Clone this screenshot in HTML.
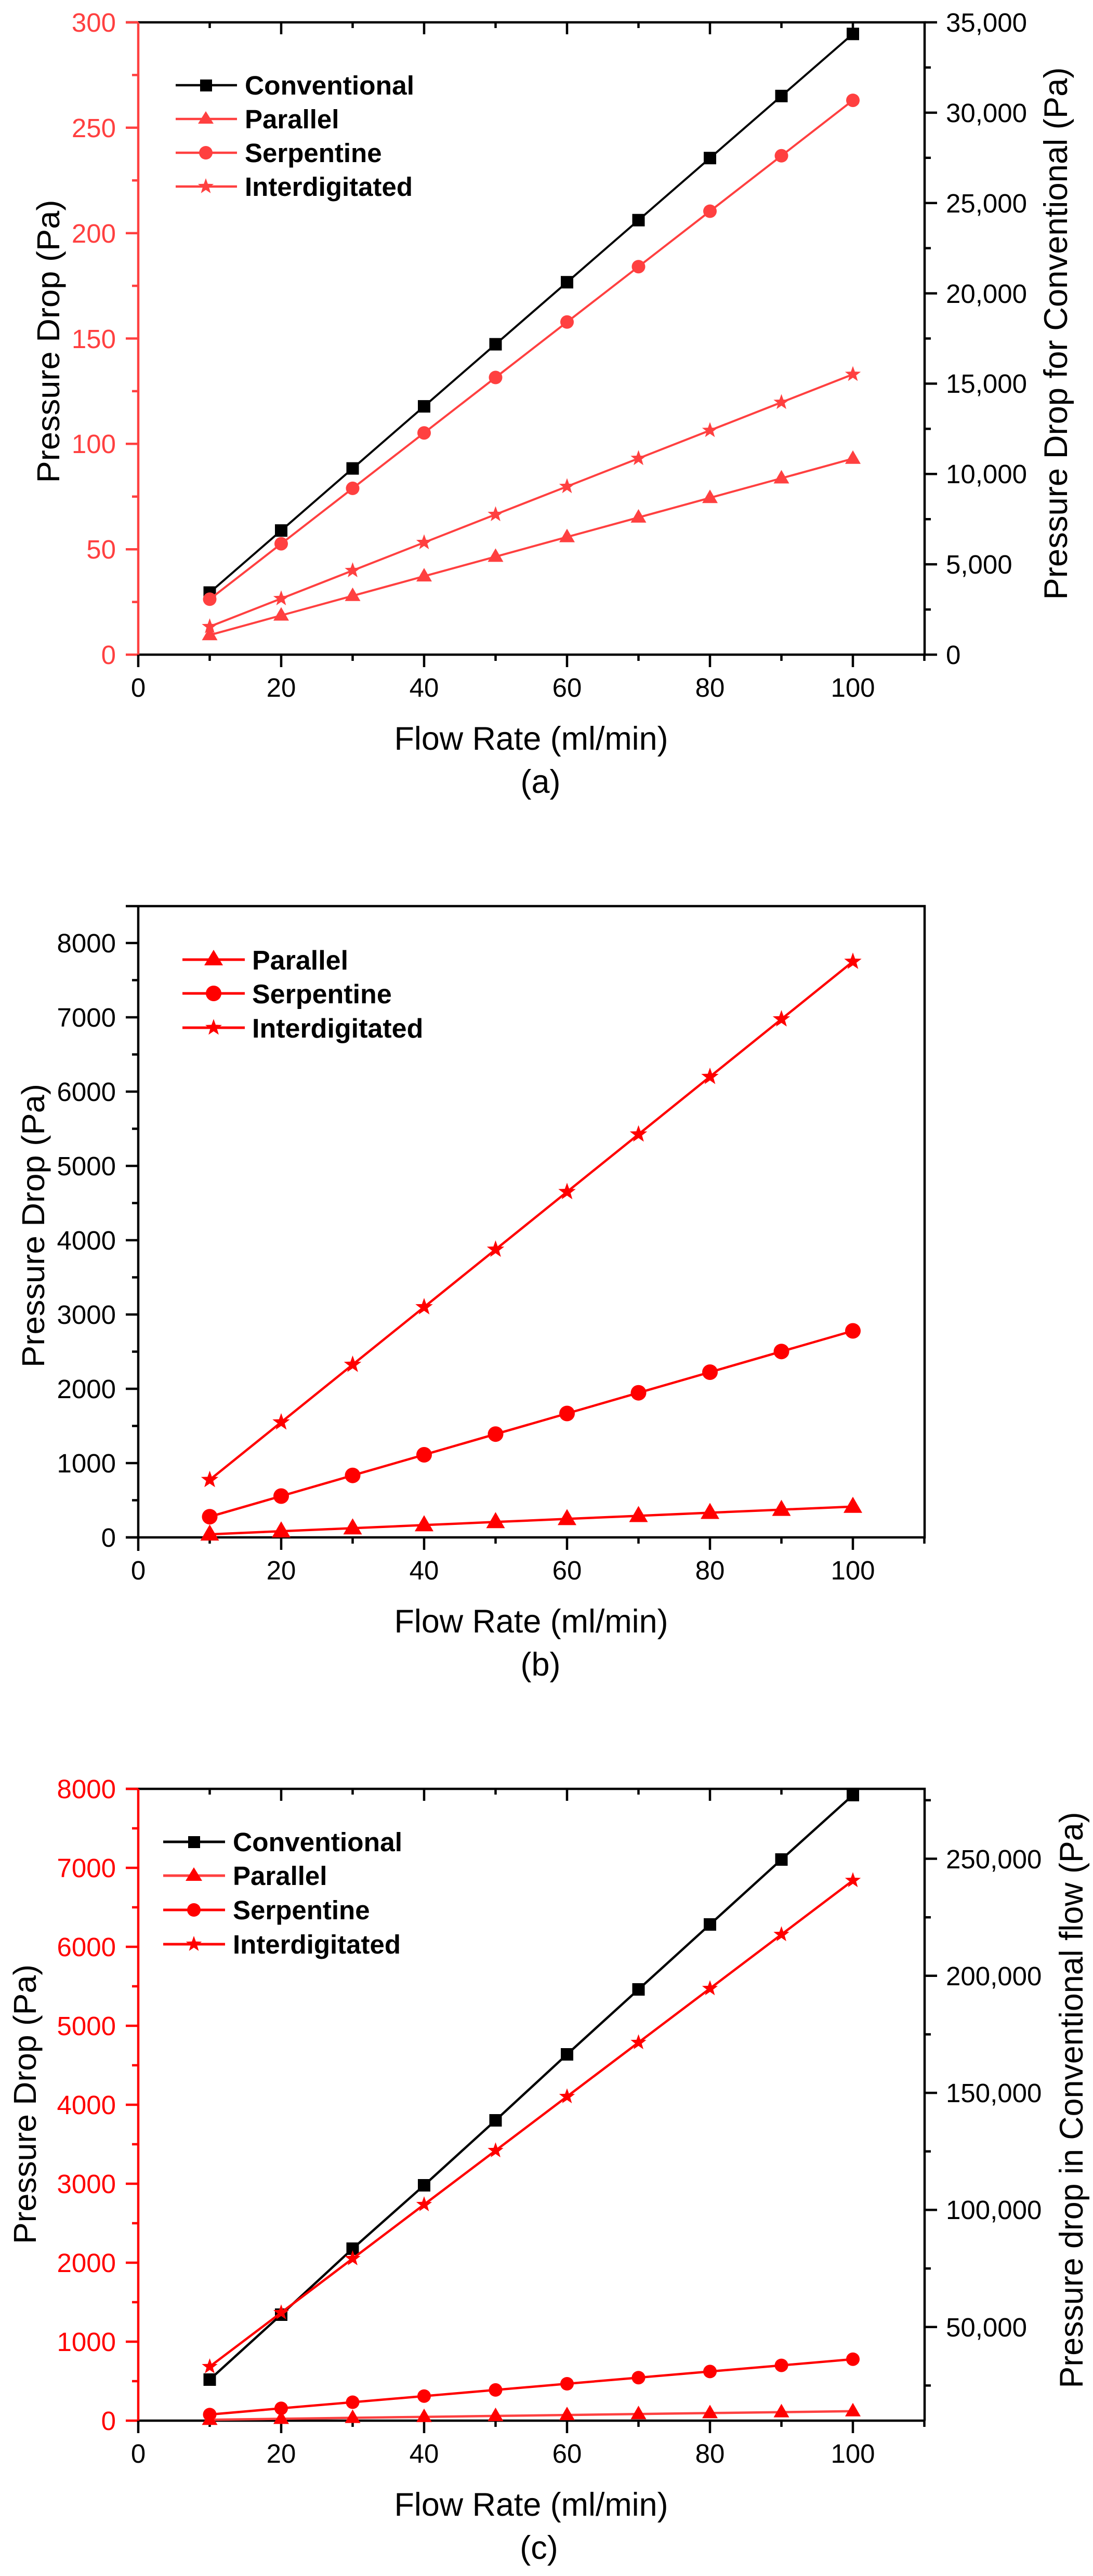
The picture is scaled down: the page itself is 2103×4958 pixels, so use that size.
<!DOCTYPE html>
<html><head><meta charset="utf-8"><style>html,body{margin:0;padding:0;background:#fff}svg{display:block}</style></head>
<body>
<svg xmlns="http://www.w3.org/2000/svg" width="2103" height="4958" viewBox="0 0 2103 4958" font-family="Liberation Sans, Arial, sans-serif">
<defs>
<marker id="sqA" markerUnits="userSpaceOnUse" markerWidth="1" markerHeight="1" refX="0" refY="0" overflow="visible"><rect x="-12" y="-12" width="24" height="24" fill="#000"/></marker>
<marker id="ciA" markerUnits="userSpaceOnUse" markerWidth="1" markerHeight="1" refX="0" refY="0" overflow="visible"><circle r="13" fill="#ff4040"/></marker>
<marker id="trA" markerUnits="userSpaceOnUse" markerWidth="1" markerHeight="1" refX="0" refY="0" overflow="visible"><path d="M0,-16 L15,10 -15,10Z" fill="#ff4040"/></marker>
<marker id="stA" markerUnits="userSpaceOnUse" markerWidth="1" markerHeight="1" refX="0" refY="0" overflow="visible"><path d="M0,-16 L3.8,-5.3 15.2,-4.9 6.2,2 9.4,12.9 0,6.5 -9.4,12.9 -6.2,2 -15.2,-4.9 -3.8,-5.3Z" fill="#ff4040"/></marker>
<marker id="ciB" markerUnits="userSpaceOnUse" markerWidth="1" markerHeight="1" refX="0" refY="0" overflow="visible"><circle r="15" fill="#ff0000"/></marker>
<marker id="trB" markerUnits="userSpaceOnUse" markerWidth="1" markerHeight="1" refX="0" refY="0" overflow="visible"><path d="M0,-19 L18,12 -18,12Z" fill="#ff0000"/></marker>
<marker id="stB" markerUnits="userSpaceOnUse" markerWidth="1" markerHeight="1" refX="0" refY="0" overflow="visible"><path d="M0,-16 L3.8,-5.3 15.2,-4.9 6.2,2 9.4,12.9 0,6.5 -9.4,12.9 -6.2,2 -15.2,-4.9 -3.8,-5.3Z" fill="#ff0000" transform="scale(1.1)"/></marker>
<marker id="sqC" markerUnits="userSpaceOnUse" markerWidth="1" markerHeight="1" refX="0" refY="0" overflow="visible"><rect x="-12" y="-12" width="24" height="24" fill="#000"/></marker>
<marker id="ciC" markerUnits="userSpaceOnUse" markerWidth="1" markerHeight="1" refX="0" refY="0" overflow="visible"><circle r="13" fill="#ff0000"/></marker>
<marker id="trC" markerUnits="userSpaceOnUse" markerWidth="1" markerHeight="1" refX="0" refY="0" overflow="visible"><path d="M0,-16 L15,10 -15,10Z" fill="#ff0000"/></marker>
<marker id="stC" markerUnits="userSpaceOnUse" markerWidth="1" markerHeight="1" refX="0" refY="0" overflow="visible"><path d="M0,-16 L3.8,-5.3 15.2,-4.9 6.2,2 9.4,12.9 0,6.5 -9.4,12.9 -6.2,2 -15.2,-4.9 -3.8,-5.3Z" fill="#ff0000"/></marker>
</defs>

<!-- ================= PANEL A ================= -->
<g fill="none" stroke-width="4.5">
  <path d="M242,43 H1779 V1260 M266,1260 H1779" stroke="#000"/>
  <path d="M266,43 V1262" stroke="#ff4040"/>
  <!-- left ticks -->
  <path d="M242,1260H266M242,1057.2H266M242,854.3H266M242,651.5H266M242,448.7H266M242,245.8H266M242,43H266M254,1158.6H266M254,955.8H266M254,752.9H266M254,550.1H266M254,347.2H266M254,144.4H266" stroke="#ff4040"/>
  <!-- right ticks -->
  <path d="M1779,1260H1803M1779,1086.1H1803M1779,912.3H1803M1779,738.4H1803M1779,564.6H1803M1779,390.7H1803M1779,216.9H1803M1779,43H1803M1779,1173.1H1791M1779,999.2H1791M1779,825.4H1791M1779,651.5H1791M1779,477.6H1791M1779,303.8H1791M1779,129.9H1791" stroke="#000"/>
  <!-- bottom ticks -->
  <path d="M266,1260V1284M541,1260V1284M816,1260V1284M1091,1260V1284M1366,1260V1284M1641,1260V1284M403.5,1260V1272M678.5,1260V1272M953.5,1260V1272M1228.5,1260V1272M1503.5,1260V1272M1778.5,1260V1272" stroke="#000"/>
  <!-- top ticks inward -->
  <path d="M541,43V66M816,43V66M1091,43V66M1366,43V66M1641,43V66M403.5,43V54M678.5,43V54M953.5,43V54M1228.5,43V54M1503.5,43V54" stroke="#000"/>
</g>
<g fill="none" stroke-width="4" stroke-linejoin="round">
  <polyline stroke="#000" marker-start="url(#sqA)" marker-mid="url(#sqA)" marker-end="url(#sqA)" points="403.5,1140.5 541,1021.1 678.5,901.6 816,782.1 953.5,662.6 1091,543.2 1228.5,423.7 1366,304.2 1503.5,184.8 1641,65.3"/>
  <polyline stroke="#ff4040" marker-start="url(#ciA)" marker-mid="url(#ciA)" marker-end="url(#ciA)" points="403.5,1153.3 541,1046.6 678.5,939.9 816,833.2 953.5,726.5 1091,619.8 1228.5,513.2 1366,406.5 1503.5,299.8 1641,193.1"/>
  <polyline stroke="#ff4040" marker-start="url(#stA)" marker-mid="url(#stA)" marker-end="url(#stA)" points="403.5,1206 541,1152.1 678.5,1098.1 816,1044.2 953.5,990.2 1091,936.3 1228.5,882.3 1366,828.4 1503.5,774.4 1641,720.5"/>
  <polyline stroke="#ff4040" marker-start="url(#trA)" marker-mid="url(#trA)" marker-end="url(#trA)" points="403.5,1222.3 541,1184.5 678.5,1146.8 816,1109.1 953.5,1071.4 1091,1033.6 1228.5,995.9 1366,958.2 1503.5,920.5 1641,882.7"/>
</g>
<g font-size="51" fill="#ff4040" text-anchor="end">
  <text x="223" y="1278">0</text><text x="223" y="1075">50</text><text x="223" y="872">100</text><text x="223" y="670">150</text><text x="223" y="467">200</text><text x="223" y="264">250</text><text x="223" y="61">300</text>
</g>
<g font-size="51" fill="#000" text-anchor="start">
  <text x="1820" y="1278">0</text><text x="1820" y="1104">5,000</text><text x="1820" y="930">10,000</text><text x="1820" y="756">15,000</text><text x="1820" y="583">20,000</text><text x="1820" y="409">25,000</text><text x="1820" y="235">30,000</text><text x="1820" y="61">35,000</text>
</g>
<g font-size="51" fill="#000" text-anchor="middle">
  <text x="266" y="1341">0</text><text x="541" y="1341">20</text><text x="816" y="1341">40</text><text x="1091" y="1341">60</text><text x="1366" y="1341">80</text><text x="1641" y="1341">100</text>
</g>
<text x="1022" y="1443" font-size="63" text-anchor="middle" textLength="527" lengthAdjust="spacingAndGlyphs">Flow Rate (ml/min)</text>
<text x="1040" y="1526" font-size="63" text-anchor="middle">(a)</text>
<text transform="translate(114,657) rotate(-90)" font-size="61" text-anchor="middle" textLength="545" lengthAdjust="spacingAndGlyphs">Pressure Drop (Pa)</text>
<text transform="translate(2053,642) rotate(-90)" font-size="63" text-anchor="middle" textLength="1025" lengthAdjust="spacingAndGlyphs">Pressure Drop for Conventional (Pa)</text>
<!-- legend a -->
<g stroke-width="4.5">
  <line x1="338" y1="164" x2="456" y2="164" stroke="#000"/><rect x="385" y="153" width="23" height="23" fill="#000"/>
  <line x1="338" y1="229" x2="456" y2="229" stroke="#ff4040"/><path d="M396,214 L411,238 381,238Z" fill="#ff4040"/>
  <line x1="338" y1="294" x2="456" y2="294" stroke="#ff4040"/><circle cx="396" cy="294" r="13" fill="#ff4040"/>
  <line x1="338" y1="359" x2="456" y2="359" stroke="#ff4040"/><path transform="translate(396,359)" d="M0,-16 L3.8,-5.3 15.2,-4.9 6.2,2 9.4,12.9 0,6.5 -9.4,12.9 -6.2,2 -15.2,-4.9 -3.8,-5.3Z" fill="#ff4040"/>
</g>
<g font-size="51" font-weight="bold" fill="#000">
  <text x="471" y="182" textLength="326" lengthAdjust="spacingAndGlyphs">Conventional</text>
  <text x="471" y="247">Parallel</text>
  <text x="471" y="312">Serpentine</text>
  <text x="471" y="377">Interdigitated</text>
</g>

<!-- ================= PANEL B ================= -->
<g fill="none" stroke-width="4.5" stroke="#000">
  <path d="M242,1744 H1779 V2959 H242 M266,1744 V2985"/>
  <path d="M242,2959H266M242,2816H266M242,2673H266M242,2530H266M242,2387H266M242,2244H266M242,2101H266M242,1958H266M242,1815H266M254,2887.5H266M254,2744.5H266M254,2601.5H266M254,2458.5H266M254,2315.5H266M254,2172.5H266M254,2029.5H266M254,1886.5H266"/>
  <path d="M541,2959V2983M816,2959V2983M1091,2959V2983M1366,2959V2983M1641,2959V2983M403.5,2959V2971M678.5,2959V2971M953.5,2959V2971M1228.5,2959V2971M1503.5,2959V2971M1778.5,2959V2971"/>
</g>
<g fill="none" stroke-width="4.5" stroke="#ff0000" stroke-linejoin="round">
  <polyline marker-start="url(#stB)" marker-mid="url(#stB)" marker-end="url(#stB)" points="403.5,2848.2 541,2737.4 678.5,2626.5 816,2515.7 953.5,2404.9 1091,2294 1228.5,2183.2 1366,2072.4 1503.5,1961.6 1641,1850.8"/>
  <polyline marker-start="url(#ciB)" marker-mid="url(#ciB)" marker-end="url(#ciB)" points="403.5,2919.2 541,2879.5 678.5,2839.7 816,2800 953.5,2760.2 1091,2720.5 1228.5,2680.7 1366,2641 1503.5,2601.2 1641,2561.5"/>
  <polyline marker-start="url(#trB)" marker-mid="url(#trB)" marker-end="url(#trB)" points="403.5,2953.1 541,2947.1 678.5,2941.2 816,2935.3 953.5,2929.3 1091,2923.4 1228.5,2917.5 1366,2911.5 1503.5,2905.6 1641,2899.7"/>
</g>
<g font-size="51" fill="#000" text-anchor="end">
  <text x="223" y="2977">0</text><text x="223" y="2834">1000</text><text x="223" y="2691">2000</text><text x="223" y="2548">3000</text><text x="223" y="2405">4000</text><text x="223" y="2262">5000</text><text x="223" y="2119">6000</text><text x="223" y="1976">7000</text><text x="223" y="1833">8000</text>
</g>
<g font-size="51" fill="#000" text-anchor="middle">
  <text x="266" y="3040">0</text><text x="541" y="3040">20</text><text x="816" y="3040">40</text><text x="1091" y="3040">60</text><text x="1366" y="3040">80</text><text x="1641" y="3040">100</text>
</g>
<text x="1022" y="3142" font-size="63" text-anchor="middle" textLength="527" lengthAdjust="spacingAndGlyphs">Flow Rate (ml/min)</text>
<text x="1040" y="3225" font-size="63" text-anchor="middle">(b)</text>
<text transform="translate(85,2359) rotate(-90)" font-size="61" text-anchor="middle" textLength="546" lengthAdjust="spacingAndGlyphs">Pressure Drop (Pa)</text>
<g stroke-width="5" stroke="#ff0000">
  <line x1="351" y1="1847" x2="471" y2="1847"/><path d="M411,1828 L429,1858 393,1858Z" fill="#ff0000" stroke="none"/>
  <line x1="351" y1="1912" x2="471" y2="1912"/><circle cx="411" cy="1912" r="15" fill="#ff0000" stroke="none"/>
  <line x1="351" y1="1978" x2="471" y2="1978"/><path transform="translate(411,1978) scale(1.05)" d="M0,-16 L3.8,-5.3 15.2,-4.9 6.2,2 9.4,12.9 0,6.5 -9.4,12.9 -6.2,2 -15.2,-4.9 -3.8,-5.3Z" fill="#ff0000" stroke="none"/>
</g>
<g font-size="52" font-weight="bold" fill="#000">
  <text x="485" y="1866">Parallel</text>
  <text x="485" y="1931">Serpentine</text>
  <text x="485" y="1997">Interdigitated</text>
</g>

<!-- ================= PANEL C ================= -->
<g fill="none" stroke-width="4.5">
  <path d="M242,3443 H1779 V4659 M266,4659 H1779" stroke="#000"/>
  <path d="M266,3443 V4661" stroke="#ff0000"/>
  <path d="M242,4659H266M242,4507H266M242,4355H266M242,4203H266M242,4051H266M242,3899H266M242,3747H266M242,3595H266M242,3443H266M254,4583H266M254,4431H266M254,4279H266M254,4127H266M254,3975H266M254,3823H266M254,3671H266M254,3519H266" stroke="#ff0000"/>
  <path d="M1779,4478.7H1803M1779,4253.4H1803M1779,4028.1H1803M1779,3802.8H1803M1779,3577.5H1803M1779,4591.4H1791M1779,4366.1H1791M1779,4140.8H1791M1779,3915.5H1791M1779,3690.2H1791M1779,3464.9H1791" stroke="#000"/>
  <path d="M266,4659V4683M541,4659V4683M816,4659V4683M1091,4659V4683M1366,4659V4683M1641,4659V4683M403.5,4659V4671M678.5,4659V4671M953.5,4659V4671M1228.5,4659V4671M1503.5,4659V4671M1778.5,4659V4671" stroke="#000"/>
  <path d="M541,3443V3466M816,3443V3466M1091,3443V3466M1366,3443V3466M1641,3443V3466M403.5,3443V3454M678.5,3443V3454M953.5,3443V3454M1228.5,3443V3454M1503.5,3443V3454" stroke="#000"/>
</g>
<g fill="none" stroke-width="4.5" stroke-linejoin="round">
  <polyline stroke="#000" marker-start="url(#sqC)" marker-mid="url(#sqC)" marker-end="url(#sqC)" points="403.5,4580 541,4455 678.5,4328 816,4206 953.5,4081 1091,3954 1228.5,3829 1366,3704 1503.5,3579 1641,3455"/>
  <polyline stroke="#ff0000" marker-start="url(#stC)" marker-mid="url(#stC)" marker-end="url(#stC)" points="403.5,4555 541,4451.1 678.5,4347.1 816,4243.1 953.5,4139.2 1091,4035.2 1228.5,3931.2 1366,3827.3 1503.5,3723.3 1641,3619.3"/>
  <polyline stroke="#ff0000" marker-start="url(#ciC)" marker-mid="url(#ciC)" marker-end="url(#ciC)" points="403.5,4647.2 541,4635.3 678.5,4623.5 816,4611.7 953.5,4599.9 1091,4588 1228.5,4576.2 1366,4564.4 1503.5,4552.6 1641,4540.7"/>
  <polyline stroke="#ff4040" marker-start="url(#trC)" marker-mid="url(#trC)" marker-end="url(#trC)" points="403.5,4657.2 541,4655.4 678.5,4653.5 816,4651.7 953.5,4649.9 1091,4648.1 1228.5,4646.2 1366,4644.4 1503.5,4642.6 1641,4640.8"/>
</g>
<g font-size="51" fill="#ff0000" text-anchor="end">
  <text x="223" y="4677">0</text><text x="223" y="4525">1000</text><text x="223" y="4373">2000</text><text x="223" y="4221">3000</text><text x="223" y="4069">4000</text><text x="223" y="3917">5000</text><text x="223" y="3765">6000</text><text x="223" y="3613">7000</text><text x="223" y="3461">8000</text>
</g>
<g font-size="51" fill="#000" text-anchor="start">
  <text x="1820" y="4497">50,000</text><text x="1820" y="4271">100,000</text><text x="1820" y="4046">150,000</text><text x="1820" y="3821">200,000</text><text x="1820" y="3596">250,000</text>
</g>
<g font-size="51" fill="#000" text-anchor="middle">
  <text x="266" y="4740">0</text><text x="541" y="4740">20</text><text x="816" y="4740">40</text><text x="1091" y="4740">60</text><text x="1366" y="4740">80</text><text x="1641" y="4740">100</text>
</g>
<text x="1022" y="4842" font-size="63" text-anchor="middle" textLength="527" lengthAdjust="spacingAndGlyphs">Flow Rate (ml/min)</text>
<text x="1037" y="4925" font-size="63" text-anchor="middle">(c)</text>
<text transform="translate(69,4050) rotate(-90)" font-size="61" text-anchor="middle" textLength="538" lengthAdjust="spacingAndGlyphs">Pressure Drop (Pa)</text>
<text transform="translate(2083,4042) rotate(-90)" font-size="63" text-anchor="middle" textLength="1109" lengthAdjust="spacingAndGlyphs">Pressure drop in Conventional flow (Pa)</text>
<g stroke-width="5">
  <line x1="314" y1="3545" x2="433" y2="3545" stroke="#000"/><rect x="362" y="3534" width="23" height="23" fill="#000"/>
  <line x1="314" y1="3610" x2="433" y2="3610" stroke="#ff4040"/><path d="M373,3594 L389,3620 357,3620Z" fill="#ff0000"/>
  <line x1="314" y1="3676" x2="433" y2="3676" stroke="#ff0000"/><circle cx="373" cy="3676" r="13" fill="#ff0000"/>
  <line x1="314" y1="3742" x2="433" y2="3742" stroke="#ff0000"/><path transform="translate(373,3742)" d="M0,-16 L3.8,-5.3 15.2,-4.9 6.2,2 9.4,12.9 0,6.5 -9.4,12.9 -6.2,2 -15.2,-4.9 -3.8,-5.3Z" fill="#ff0000"/>
</g>
<g font-size="51" font-weight="bold" fill="#000">
  <text x="448" y="3563" textLength="326" lengthAdjust="spacingAndGlyphs">Conventional</text>
  <text x="448" y="3628">Parallel</text>
  <text x="448" y="3694">Serpentine</text>
  <text x="448" y="3760">Interdigitated</text>
</g>
</svg>
</body></html>
